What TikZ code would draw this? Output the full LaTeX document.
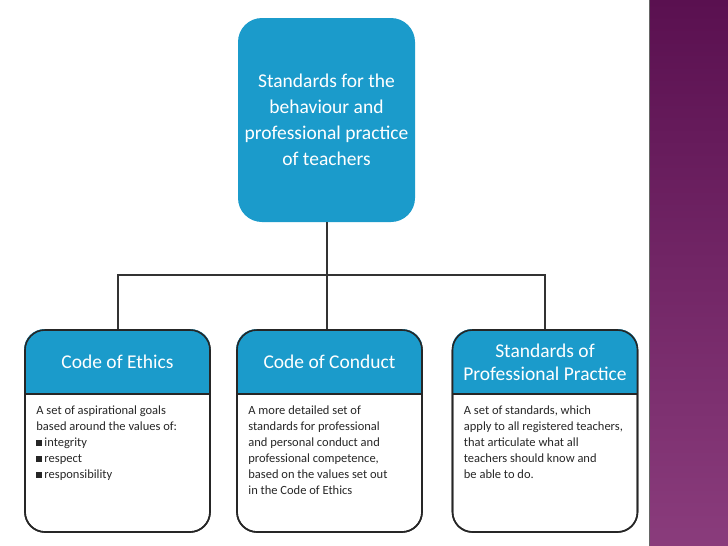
\documentclass[tikz,border=0pt]{standalone}
\usepackage{fontspec}
\setmainfont{Carlito}
\usetikzlibrary{calc}
\definecolor{teal1}{HTML}{1B9BCB}
\definecolor{plumtop}{HTML}{5A1050}
\definecolor{plumbot}{HTML}{8A3C7C}
\tikzset{
  topbox/.style={fill=teal1,rounded corners=24pt,minimum width=177pt,minimum height=204pt,
    text=white,font=\fontsize{19.5}{26}\selectfont,align=center,inner sep=0pt},
  card/.style={draw=black!85,line width=1.6pt,rounded corners=20pt,minimum width=185pt,minimum height=202pt,inner sep=0pt},
  head/.style={text=white,font=\fontsize{19.5}{23}\selectfont,align=center},
  body/.style={anchor=north west,font=\fontsize{12.5}{16}\selectfont,align=left,inner sep=0pt,text=black!85},
  link/.style={line width=2pt,black!80}
}
\newcommand{\bul}{\rule{6pt}{6pt}\,}
\begin{document}
\begin{tikzpicture}[x=1pt,y=-1pt]
  \useasboundingbox (0,0) rectangle (728,546);
  % purple side strip
  \shade[top color=plumtop,bottom color=plumbot] (649,0) rectangle (728,546);
  \draw[black!60,line width=1pt] (649,0) -- (649,546);

  \node[topbox] (std) at (326.5,120) {Standards for the\\behaviour and\\professional practice\\of teachers};

  % cards
  \foreach \nm/\cx in {ethics/117.5,conduct/329.5,practice/545}{
    \node[card] (\nm) at (\cx,431) {};
    \begin{scope}
      \clip[rounded corners=20pt] (\nm.north west) rectangle (\nm.south east);
      \fill[teal1] (\nm.north west) rectangle ($(\nm.north east)+(0,65)$);
    \end{scope}
    \draw[black!85,line width=1.6pt] ($(\nm.north west)+(0,65)$) -- ($(\nm.north east)+(0,65)$);
    \node[card,fill=none] at (\nm) {};
    \coordinate (\nm-h) at ($(\nm.north)+(0,33)$);
    \coordinate (\nm-b) at ($(\nm.north west)+(12,76)$);
  }
  \node[head] at (ethics-h) {Code of Ethics};
  \node[head] at (conduct-h) {Code of Conduct};
  \node[head] at (practice-h) {Standards of\\Professional Practice};

  \node[body] at (ethics-b) {A set of aspirational goals\\based around the values of:\\\bul integrity\\\bul respect\\\bul responsibility};
  \node[body] at (conduct-b) {A more detailed set of\\standards for professional\\and personal conduct and\\professional competence,\\based on the values set out\\in the Code of Ethics};
  \node[body] at (practice-b) {A set of standards, which\\apply to all registered teachers,\\that articulate what all\\teachers should know and\\be able to do.};

  % connectors
  \coordinate (bus) at (std.south |- 0,275);
  \draw[link] (std.south) -- (bus);
  \draw[link] (ethics.north) |- (bus) -| (practice.north);
  \draw[link] (bus) -- (bus |- conduct.north);
\end{tikzpicture}
\end{document}
